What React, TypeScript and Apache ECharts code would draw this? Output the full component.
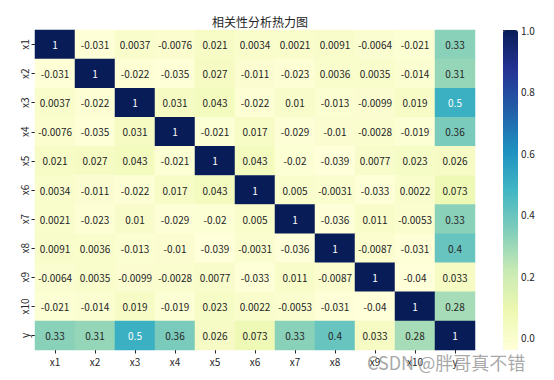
import React, { useEffect, useRef } from "react";
import * as echarts from "echarts";

const labels = ["x1", "x2", "x3", "x4", "x5", "x6", "x7", "x8", "x9", "x10", "y"];

const rowX1 = [1, -0.031, 0.0037, -0.0076, 0.021, 0.0034, 0.0021, 0.0091, -0.0064, -0.021, 0.33];
const rowX2 = [-0.031, 1, -0.022, -0.035, 0.027, -0.011, -0.023, 0.0036, 0.0035, -0.014, 0.31];
const rowX3 = [0.0037, -0.022, 1, 0.031, 0.043, -0.022, 0.01, -0.013, -0.0099, 0.019, 0.5];
const rowX4 = [-0.0076, -0.035, 0.031, 1, -0.021, 0.017, -0.029, -0.01, -0.0028, -0.019, 0.36];
const rowX5 = [0.021, 0.027, 0.043, -0.021, 1, 0.043, -0.02, -0.039, 0.0077, 0.023, 0.026];
const rowX6 = [0.0034, -0.011, -0.022, 0.017, 0.043, 1, 0.005, -0.0031, -0.033, 0.0022, 0.073];
const rowX7 = [0.0021, -0.023, 0.01, -0.029, -0.02, 0.005, 1, -0.036, 0.011, -0.0053, 0.33];
const rowX8 = [0.0091, 0.0036, -0.013, -0.01, -0.039, -0.0031, -0.036, 1, -0.0087, -0.031, 0.4];
const rowX9 = [-0.0064, 0.0035, -0.0099, -0.0028, 0.0077, -0.033, 0.011, -0.0087, 1, -0.04, 0.033];
const rowX10 = [-0.021, -0.014, 0.019, -0.019, 0.023, 0.0022, -0.0053, -0.031, -0.04, 1, 0.28];
const rowY = [0.33, 0.31, 0.5, 0.36, 0.026, 0.073, 0.33, 0.4, 0.033, 0.28, 1];

const matrix = [rowX1, rowX2, rowX3, rowX4, rowX5, rowX6, rowX7, rowX8, rowX9, rowX10, rowY];

const colorbarTicks = [0, 0.2, 0.4, 0.6, 0.8, 1.0];
const vMin = -0.04;
const vMax = 1.0;

const ylgnbu = ["#ffffd9", "#edf8b1", "#c7e9b4", "#7fcdbb", "#41b6c4", "#1d91c0", "#225ea8", "#253494", "#081d58"];

const FONT = "'Noto Sans CJK SC', 'DejaVu Sans', sans-serif";

export default function App() {
  const ref = useRef<HTMLDivElement>(null);
  useEffect(() => {
    if (!ref.current) return;
    const chart = echarts.init(ref.current, null, { renderer: "svg" });
    const data: any[] = [];
    matrix.forEach((row, r) => {
      row.forEach((v, c) => {
        data.push({
          value: [c, r, v],
          label: { color: v >= 0.45 ? "#ffffff" : "#262626" },
        });
      });
    });
    chart.setOption({
      animation: false,
      backgroundColor: "#ffffff",
      textStyle: { fontFamily: FONT },
      title: {
        text: "相关性分析热力图",
        left: 255,
        top: 10,
        textAlign: "center",
        textStyle: { fontSize: 12, fontWeight: "normal", color: "#262626", fontFamily: FONT },
      },
      grid: [
        { left: 35, top: 30, width: 440, height: 320 },
        { left: 503, top: 30, width: 15, height: 320 },
      ],
      xAxis: [
        {
          type: "category",
          data: labels,
          gridIndex: 0,
          axisLine: { show: false },
          axisTick: { show: true, length: 3.5, alignWithLabel: true, lineStyle: { color: "#262626" } },
          axisLabel: { fontSize: 10, color: "#262626", margin: 6, fontFamily: FONT },
          splitLine: { show: false },
        },
        {
          type: "value",
          gridIndex: 1,
          show: false,
        },
      ],
      yAxis: [
        {
          type: "category",
          data: labels,
          inverse: true,
          gridIndex: 0,
          axisLine: { show: false },
          axisTick: { show: true, length: 3.5, alignWithLabel: true, lineStyle: { color: "#262626" } },
          axisLabel: { fontSize: 10, color: "#262626", rotate: 90, margin: 6, fontFamily: FONT },
          splitLine: { show: false },
        },
        {
          type: "value",
          gridIndex: 1,
          min: vMin,
          max: vMax,
          position: "right",
          axisLine: { show: false },
          splitLine: { show: false },
          axisTick: { show: true, length: 3.5, customValues: colorbarTicks, lineStyle: { color: "#262626" } },
          axisLabel: {
            show: true,
            customValues: colorbarTicks,
            fontSize: 10,
            color: "#262626",
            margin: 3,
            fontFamily: FONT,
            formatter: (v: number) => v.toFixed(1),
          },
        },
      ],
      visualMap: {
        type: "continuous",
        min: vMin,
        max: vMax,
        calculable: false,
        seriesIndex: 0,
        left: 503,
        top: 30,
        padding: 0,
        itemWidth: 15,
        itemHeight: 320,
        inRange: { color: ylgnbu },
        text: ["", ""],
        showLabel: false,
        hoverLink: false,
      },
      series: [
        {
          type: "heatmap",
          xAxisIndex: 0,
          yAxisIndex: 0,
          data,
          label: {
            show: true,
            fontSize: 10,
            fontFamily: FONT,
            formatter: (p: any) => String(p.value[2]),
          },
          emphasis: { disabled: true },
          itemStyle: { borderWidth: 0 },
        },
      ],
      graphic: [
        {
          type: "text",
          left: 367,
          top: 353,
          z: 100,
          style: {
            text: "CSDN @胖哥真不错",
            fontSize: 18,
            fontFamily: FONT,
            fill: "rgba(140,140,140,0.75)",
          },
        },
      ],
    });
    return () => chart.dispose();
  }, []);
  return <div ref={ref} style={{ width: 554, height: 380, position: "absolute", left: 0, top: 0 }} />;
}
